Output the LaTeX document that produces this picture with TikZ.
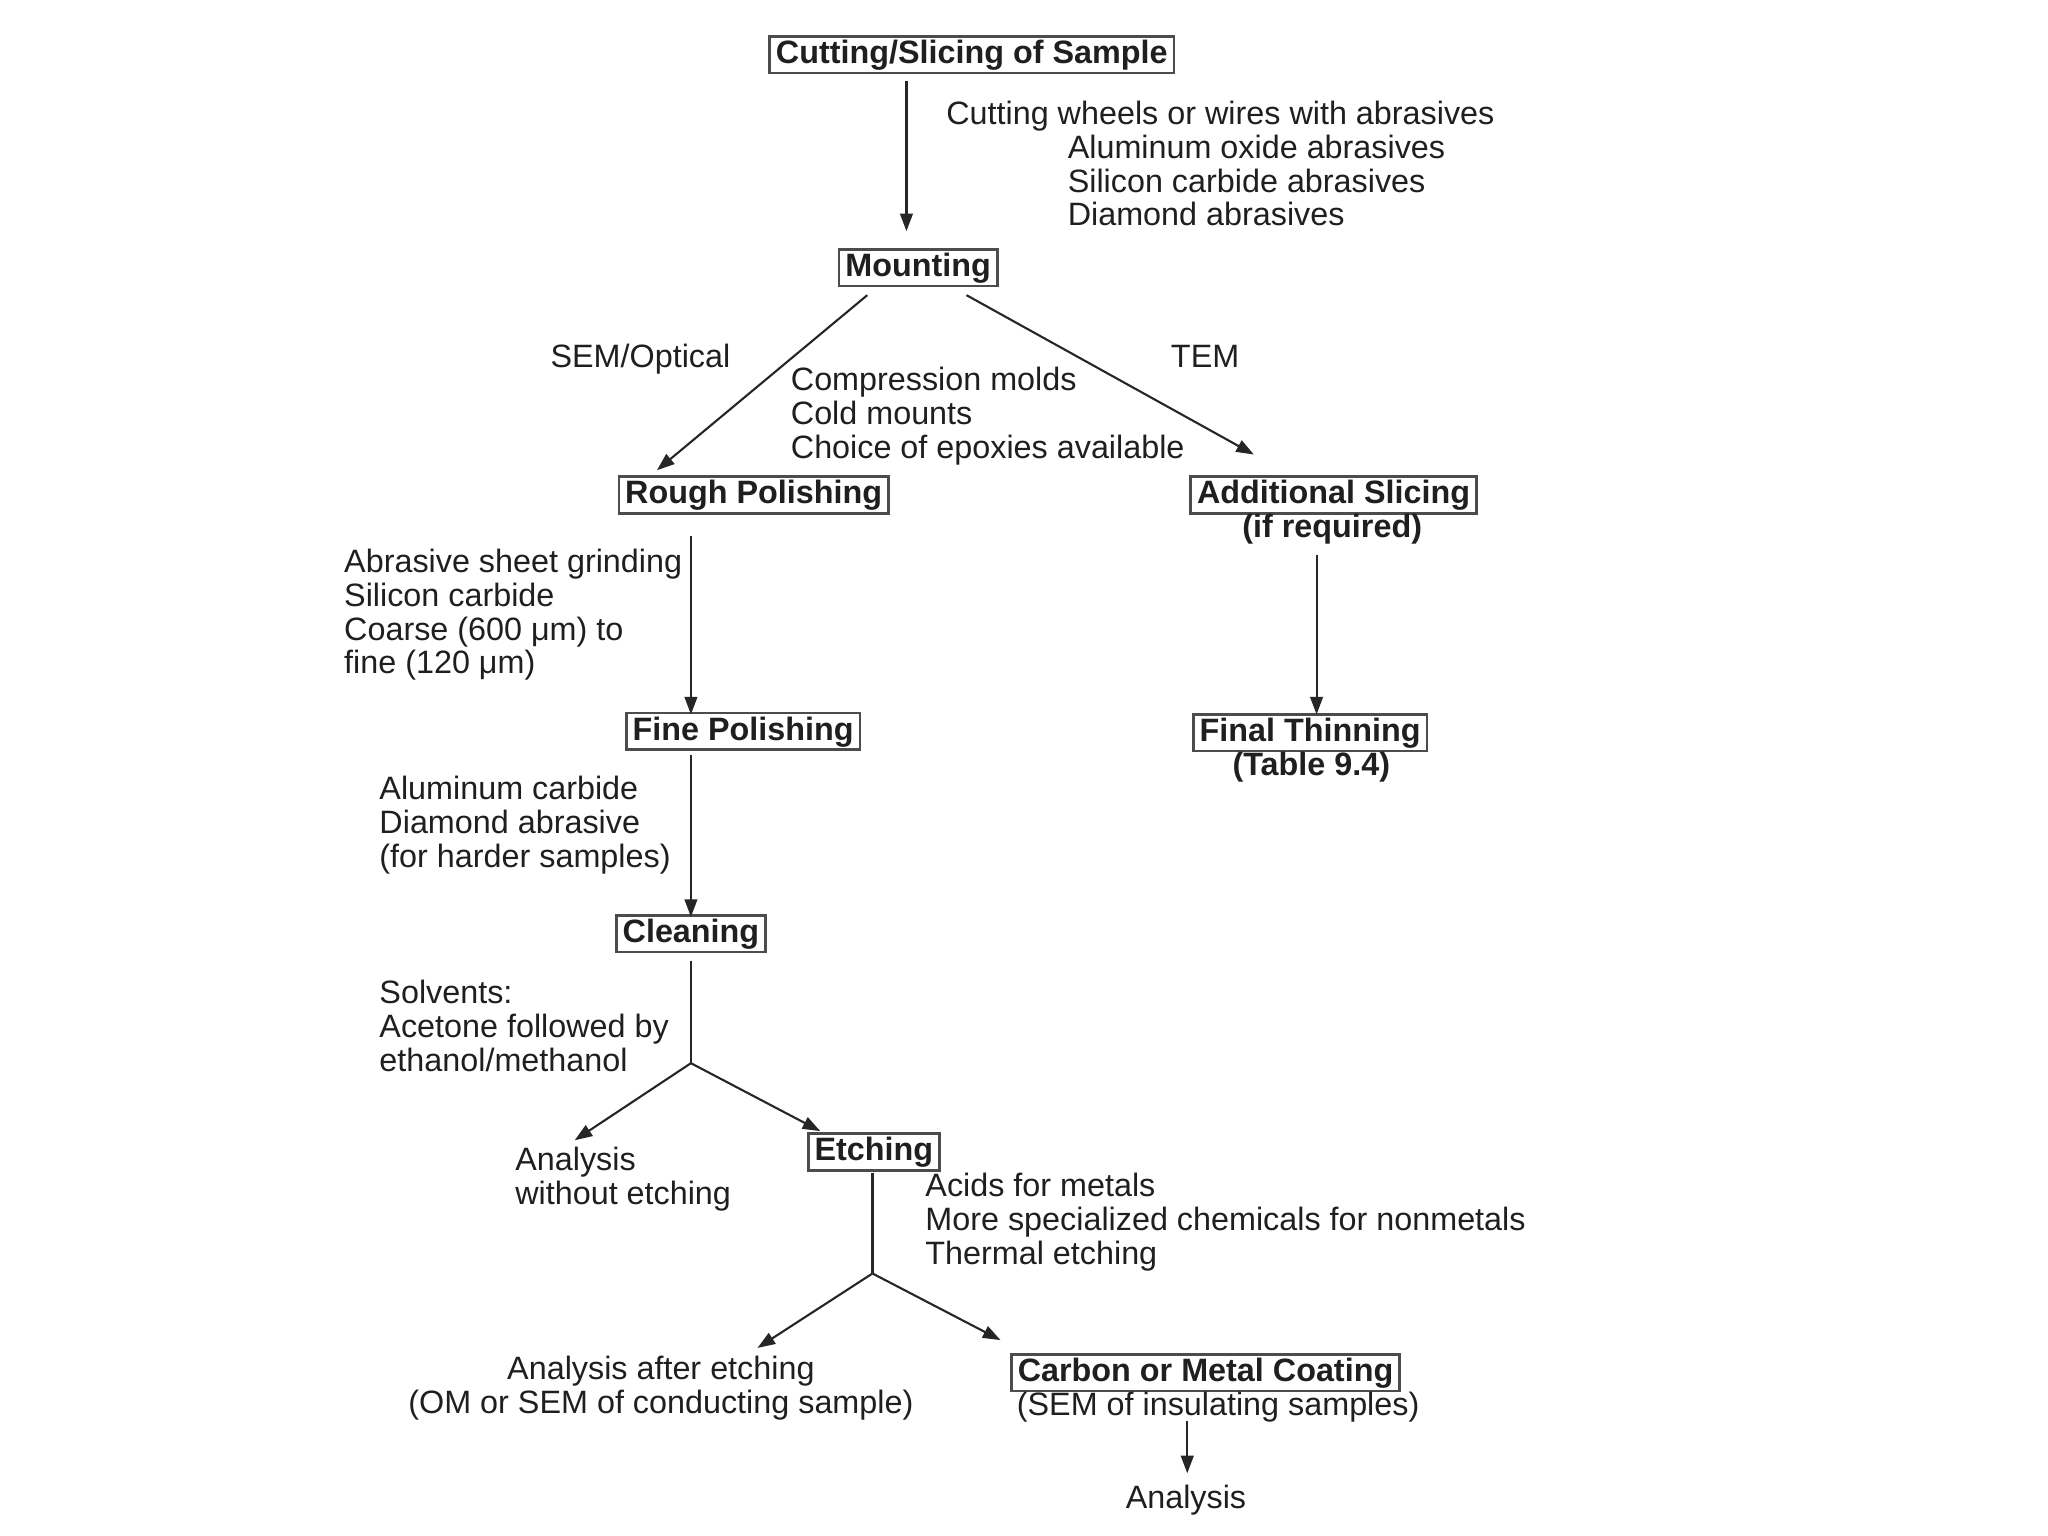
\documentclass[tikz,border=0pt]{standalone}
\usepackage{fontspec}
\setmainfont{Liberation Sans}
\usetikzlibrary{arrows.meta}
\begin{document}
\begin{tikzpicture}[x=0.0130612cm,y=-0.0130612cm,
  every node/.style={text=black!88},
  fnt/.style={font=\fontsize{9.2}{9.65}\selectfont},
  box/.style={draw=black!70, line width=0.75pt, font=\fontsize{9.2}{9.65}\selectfont\bfseries,
    text height=6.9pt, text depth=2pt, inner xsep=1.8pt, inner ysep=0.75pt},
  bt/.style={font=\fontsize{9.2}{9.65}\selectfont\bfseries, inner sep=0pt},
  txt/.style={fnt, anchor=base west, align=left, inner sep=0pt},
  ct/.style={fnt, anchor=base, align=center, inner sep=0pt},
  arr/.style={draw=black!85, line width=0.6pt, -{Triangle[length=5pt,width=3.6pt]}},
  ln/.style={draw=black!85, line width=0.6pt}]
\useasboundingbox (0,0) rectangle (1568,1176);

% boxes
\node[box] (cut) at (744,42) {Cutting/Slicing of Sample};
\node[box] (mount) at (703,205) {Mounting};
\node[box] (rough) at (577,379) {Rough Polishing};
\node[box] (addsl) at (1021,379) {Additional Slicing};
\node[bt] (ifreq) at (1020,405) {(if required)};
\node[box] (fine) at (569,560) {Fine Polishing};
\node[box] (final) at (1003,561) {Final Thinning};
\node[bt] (tab) at (1004,587) {(Table 9.4)};
\node[box] (clean) at (529,715) {Cleaning};
\node[box] (etch) at (669,882) {Etching};
\node[box] (coat) at (923,1051) {Carbon or Metal Coating};

% annotations (multi-line nodes: base = last line's baseline)
\node[txt] (t1) at (724,95) {Cutting wheels or wires with abrasives};
\node[txt] (t2) at (817,173) {Aluminum oxide abrasives\\Silicon carbide abrasives\\Diamond abrasives};
\node[txt] (sem) at (421,281) {SEM/Optical};
\node[txt] (tem) at (896,281) {TEM};
\node[txt] (t3) at (605,351) {Compression molds\\Cold mounts\\Choice of epoxies available};
\node[txt] (t4) at (263,516) {Abrasive sheet grinding\\Silicon carbide\\Coarse (600 μm) to\\fine (120 μm)};
\node[txt] (t5) at (290,664) {Aluminum carbide\\Diamond abrasive\\(for harder samples)};
\node[txt] (t6) at (290,820) {Solvents:\\Acetone followed by\\ethanol/methanol};
\node[txt] (anw) at (394,922) {Analysis\\without etching};
\node[txt] (t7) at (708,968) {Acids for metals\\More specialized chemicals for nonmetals\\Thermal etching};
\node[ct] (anae) at (506,1082) {Analysis after etching\\(OM or SEM of conducting sample)};
\node[txt] (sem2) at (778,1084) {(SEM of insulating samples)};
\node[ct] (an) at (908,1155) {Analysis};

% connector points
\coordinate (c1) at (694,62);   \coordinate (c2) at (694,177);
\coordinate (m1) at (664,226);  \coordinate (m1e) at (503,360);
\coordinate (m2) at (740,226);  \coordinate (m2e) at (960,348);
\coordinate (r1) at (529,410);  \coordinate (r2) at (529,547);
\coordinate (a1) at (1008,425); \coordinate (a2) at (1008,547);
\coordinate (f1) at (529,578);  \coordinate (f2) at (529,702);
\coordinate (k1) at (529,736);  \coordinate (k2) at (529,814);
\coordinate (k3) at (440,873);  \coordinate (k4) at (628,866);
\coordinate (e1) at (668,898);  \coordinate (e2) at (668,975);
\coordinate (e3) at (580,1032); \coordinate (e4) at (766,1026);
\coordinate (g1) at (909,1088); \coordinate (g2) at (909,1128);

% connectors
\draw[arr] (c1) -- (c2);
\draw[arr] (m1) -- (m1e);
\draw[arr] (m2) -- (m2e);
\draw[arr] (r1) -- (r2);
\draw[arr] (a1) -- (a2);
\draw[arr] (f1) -- (f2);
\draw[ln] (k1) -- (k2);
\draw[arr] (k2) -- (k3);
\draw[arr] (k2) -- (k4);
\draw[ln] (e1) -- (e2);
\draw[arr] (e2) -- (e3);
\draw[arr] (e2) -- (e4);
\draw[arr] (g1) -- (g2);
\end{tikzpicture}
\end{document}
